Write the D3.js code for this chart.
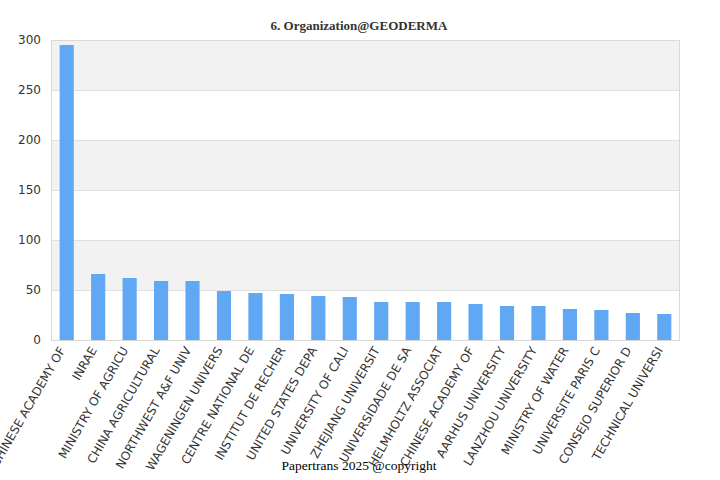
<!DOCTYPE html>
<html>
<head>
<meta charset="utf-8">
<script src="https://cdn.jsdelivr.net/npm/d3@7"></script>
<style>
  body { margin: 0; background: #fff; }
</style>
</head>
<body>
<svg id="chart"></svg>
<script>
const orgs = [
  'CHINESE ACADEMY OF', 'INRAE', 'MINISTRY OF AGRICU', 'CHINA AGRICULTURAL',
  'NORTHWEST A&F UNIV', 'WAGENINGEN UNIVERS', 'CENTRE NATIONAL DE', 'INSTITUT DE RECHER',
  'UNITED STATES DEPA', 'UNIVERSITY OF CALI', 'ZHEJIANG UNIVERSIT', 'UNIVERSIDADE DE SA',
  'HELMHOLTZ ASSOCIAT', 'CHINESE ACADEMY OF ', 'AARHUS UNIVERSITY', 'LANZHOU UNIVERSITY',
  'MINISTRY OF WATER', 'UNIVERSITE PARIS C', 'CONSEJO SUPERIOR D', 'TECHNICAL UNIVERSI'
];
const counts = [295, 66, 62, 59, 59, 49, 47, 46, 44, 43, 38, 38, 38, 36, 34, 34, 31, 30, 27, 26];
const yTicks = [0, 50, 100, 150, 200, 250, 300];

var width = 720;
var height = 480;
var margin = { top: 40, bottom: 140, left: 51, right: 40 };

var svg = d3.select('#chart')
  .attr('width', width)
  .attr('height', height);

var x = d3.scaleBand()
  .domain(orgs)
  .range([margin.left, width - margin.right])
  .paddingInner(0.55)
  .paddingOuter(0.275);

var y = d3.scaleLinear()
  .domain([0, 300])
  .range([height - margin.bottom, margin.top]);

// alternating bands
var bands = d3.pairs(yTicks);
svg.selectAll('rect.band')
  .data(bands)
  .join('rect')
    .attr('class', 'band')
    .attr('x', margin.left)
    .attr('width', width - margin.right - margin.left)
    .attr('y', d => y(d[1]))
    .attr('height', d => y(d[0]) - y(d[1]))
    .attr('fill', (d, i) => i % 2 ? '#f2f2f2' : '#ffffff');

// grid lines
svg.selectAll('line.grid')
  .data(yTicks)
  .join('line')
    .attr('class', 'grid')
    .attr('x1', margin.left)
    .attr('x2', width - margin.right)
    .attr('y1', d => y(d) + 0.5)
    .attr('y2', d => y(d) + 0.5)
    .attr('stroke', '#e0e0e0');

// bars
svg.selectAll('rect.bar')
  .data(counts)
  .join('rect')
    .attr('class', 'bar')
    .attr('x', (d, i) => x(orgs[i]))
    .attr('y', d => y(d))
    .attr('width', x.bandwidth())
    .attr('height', d => y(0) - y(d))
    .attr('fill', '#61a8f4');

// frame
svg.append('rect')
  .attr('x', margin.left + 0.5)
  .attr('y', margin.top + 0.5)
  .attr('width', width - margin.right - margin.left - 1)
  .attr('height', height - margin.bottom - margin.top)
  .attr('fill', 'none')
  .attr('stroke', '#d9d9d9');

// y axis
var yAxis = svg.append('g')
  .attr('transform', 'translate(' + margin.left + ',0)')
  .attr('font-family', 'DejaVu Sans')
  .attr('font-size', 12)
  .call(d3.axisLeft(y).tickValues(yTicks).tickSize(0).tickPadding(10));
yAxis.attr('font-family', 'DejaVu Sans').attr('font-size', 12);
yAxis.select('.domain').remove();
yAxis.selectAll('text')
  .attr('fill', '#333');

// x axis labels
var xAxis = svg.append('g')
  .attr('transform', 'translate(0,' + (height - margin.bottom) + ')')
  .call(d3.axisBottom(x).tickSize(0).tickPadding(0));
xAxis.attr('font-family', 'DejaVu Sans').attr('font-size', 12);
xAxis.select('.domain').remove();
xAxis.selectAll('text')
  .text(d => d.trim())
  .attr('fill', '#333')
  .attr('text-anchor', 'end')
  .attr('dy', 0)
  .attr('y', 0)
  .attr('transform', 'translate(-1,10) rotate(-60)');

// title
svg.append('text')
  .attr('x', 359)
  .attr('y', 30)
  .attr('text-anchor', 'middle')
  .attr('fill', '#333')
  .attr('font-family', 'Liberation Serif')
  .attr('font-weight', 'bold')
  .attr('font-size', 13)
  .text('6. Organization@GEODERMA');

// footer
svg.append('text')
  .attr('x', 359)
  .attr('y', 470)
  .attr('text-anchor', 'middle')
  .attr('fill', '#000')
  .attr('font-family', 'Liberation Serif')
  .attr('font-size', 13.5)
  .text('Papertrans 2025 @copyright');
</script>
</body>
</html>
